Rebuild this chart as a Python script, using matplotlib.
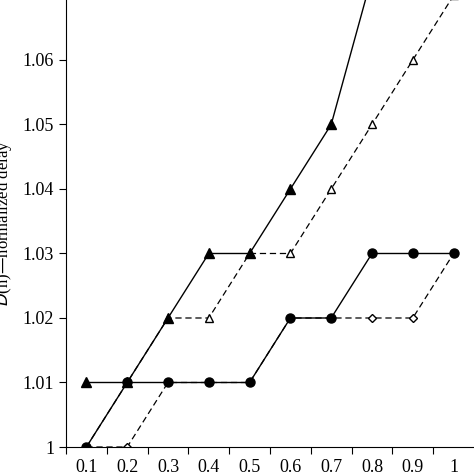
import matplotlib
matplotlib.use("Agg")
import matplotlib.pyplot as plt
import numpy as np

plt.rcParams['font.family'] = ['Liberation Serif', 'DejaVu Serif']
labels = ["0.1", "0.2", "0.3", "0.4", "0.5", "0.6", "0.7", "0.8", "0.9", "1"]
tri_solid = [1.01, 1.01, 1.02, 1.03, 1.03, 1.04, 1.05, 1.073, 1.09, 1.11]
circ_solid = [1.00, 1.01, 1.01, 1.01, 1.01, 1.02, 1.02, 1.03, 1.03, 1.03]
tri_open = [1.00, 1.01, 1.02, 1.02, 1.03, 1.03, 1.04, 1.05, 1.06, 1.07]
diam_open = [1.00, 1.00, 1.01, 1.01, 1.01, 1.02, 1.02, 1.02, 1.02, 1.03]
yticks = [1.00, 1.01, 1.02, 1.03, 1.04, 1.05, 1.06]
ytick_labels = ["1", "1.01", "1.02", "1.03", "1.04", "1.05", "1.06"]

x = np.arange(1, len(labels) + 1)
fig = plt.figure(figsize=(4.74, 4.74), dpi=100)
ax = fig.add_axes([66/474, 27/474, 408/474, 447/474])
ax.plot(x, tri_open, color='black', lw=0.9, ls=(0, (5, 3)), marker='^', mfc='white', mec='black', ms=6)
ax.plot(x, diam_open, color='black', lw=0.9, ls=(0, (5, 3)), marker='D', mfc='white', mec='black', ms=4)
ax.plot(x, tri_solid, '-', color='black', lw=1.0, marker='^', mfc='black', mec='black', ms=6.5)
ax.plot(x, circ_solid, '-', color='black', lw=1.0, marker='o', mfc='black', mec='black', ms=6.5)
ax.set_xlim(0.5, 10.5)
ax.set_ylim(1.0, 1.0693)
ax.set_xticks(np.arange(0.5, 10.5, 1.0))
ax.set_xticklabels([])
ax.set_xticks(x, minor=True)
ax.set_xticklabels(labels, minor=True, fontsize=13)
ax.tick_params(axis='x', which='minor', length=0, pad=9)
ax.tick_params(axis='x', which='major', length=5, direction='out')
ax.set_yticks(yticks)
ax.set_yticklabels(ytick_labels, fontsize=13)
ax.tick_params(axis='y', length=5, direction='out')
ax.spines['top'].set_visible(False)
ax.spines['right'].set_visible(False)
ax.set_ylabel(r"$\it{D}$(h)—normalized delay", fontsize=12, labelpad=6)
fig.savefig("out.png", dpi=100)
